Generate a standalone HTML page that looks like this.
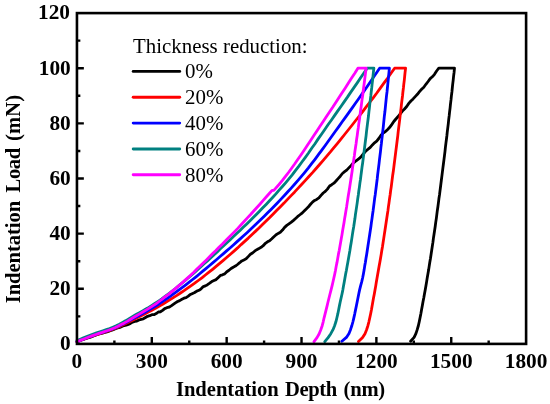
<!DOCTYPE html>
<html lang="en"><head><meta charset="utf-8"><title>Indentation Load vs Depth</title>
<style>html,body{margin:0;padding:0;background:#fff}body{width:550px;height:404px;overflow:hidden}svg{display:block}</style>
</head><body>
<svg width="550" height="404" viewBox="0 0 550 404">
<rect width="550" height="404" fill="#fff"/>
<g fill="none" stroke-width="2.8" stroke-linejoin="round" stroke-linecap="round">
<path d="M77.0 341.7 L79.1 340.9 L81.2 340.2 L83.4 339.4 L85.5 338.7 L87.7 337.9 L89.8 337.3 L91.9 336.6 L94.1 335.8 L96.2 334.9 L98.4 334.1 L100.5 333.7 L102.6 333.1 L104.8 332.5 L106.9 331.9 L109.1 331.2 L111.2 330.3 L113.3 329.6 L115.5 328.8 L117.6 328.0 L119.8 327.4 L121.9 326.4 L124.1 325.5 L126.2 325.1 L128.3 324.4 L130.5 323.4 L132.6 322.1 L134.8 321.4 L136.9 321.1 L139.0 320.0 L141.2 319.3 L143.3 318.8 L145.5 317.5 L147.6 316.3 L149.7 315.7 L151.9 314.7 L154.0 314.7 L156.2 313.6 L158.3 312.0 L160.4 311.8 L162.6 310.4 L164.7 308.6 L166.9 307.7 L169.0 307.2 L171.2 305.9 L173.3 304.4 L175.4 302.9 L177.6 301.5 L179.7 300.6 L181.9 299.3 L184.0 298.2 L186.1 297.6 L188.3 296.1 L190.4 294.4 L192.6 293.4 L194.7 292.5 L196.8 291.1 L199.0 290.3 L201.1 288.8 L203.3 286.6 L205.4 285.9 L207.5 284.7 L209.7 283.2 L211.8 281.6 L214.0 280.5 L216.1 279.6 L218.3 277.4 L220.4 275.4 L222.5 274.8 L224.7 273.9 L226.8 271.7 L229.0 270.3 L231.1 268.5 L233.2 267.2 L235.4 266.1 L237.5 264.5 L239.7 262.7 L241.8 260.9 L243.9 259.9 L246.1 258.8 L248.2 256.6 L250.4 254.3 L252.5 253.0 L254.6 251.2 L256.8 249.7 L258.9 248.6 L261.1 247.3 L263.2 245.7 L265.4 243.3 L267.5 241.8 L269.6 240.7 L271.8 238.7 L273.9 236.7 L276.1 234.7 L278.2 233.4 L280.3 232.3 L282.5 230.1 L284.6 227.4 L286.8 225.4 L288.9 223.9 L291.0 222.4 L293.2 220.6 L295.3 218.7 L297.5 216.7 L299.6 215.0 L301.7 213.4 L303.9 211.3 L306.0 209.2 L308.2 207.1 L310.3 204.5 L312.5 202.1 L314.6 200.4 L316.7 199.4 L318.9 197.9 L321.0 195.4 L323.2 193.0 L325.3 191.4 L327.4 189.1 L329.6 186.0 L331.7 184.7 L333.9 183.2 L336.0 181.0 L338.1 178.6 L340.3 176.2 L342.4 173.5 L344.6 171.7 L346.7 170.1 L348.8 167.9 L351.0 165.6 L353.1 163.3 L355.3 161.4 L357.4 159.8 L359.6 158.2 L361.7 156.0 L363.8 153.4 L366.0 150.8 L368.1 149.2 L370.3 147.4 L372.4 144.9 L374.5 142.8 L376.7 141.1 L378.8 138.5 L381.0 135.2 L383.1 133.1 L385.2 131.8 L387.4 129.7 L389.5 127.6 L391.7 124.6 L393.8 121.5 L395.9 119.0 L398.1 116.5 L400.2 113.8 L402.4 111.1 L404.5 109.0 L406.7 106.5 L408.8 103.4 L410.9 101.0 L413.1 98.9 L415.2 96.6 L417.4 94.3 L419.5 91.6 L421.6 89.3 L423.8 87.2 L425.9 84.3 L428.1 81.5 L430.2 78.6 L432.3 76.8 L434.5 74.3 L436.6 71.0 L438.8 68.2 L454.5 68.2 L454.5 68.2 L454.1 72.2 L453.6 76.1 L453.2 80.1 L452.7 84.1 L452.3 88.0 L451.9 92.0 L451.4 95.9 L451.0 99.9 L450.5 103.9 L450.1 107.8 L449.6 111.8 L449.2 115.7 L448.7 119.7 L448.3 123.6 L447.8 127.6 L447.3 131.6 L446.9 135.5 L446.4 139.5 L445.9 143.4 L445.4 147.4 L445.0 151.3 L444.5 155.3 L444.0 159.3 L443.5 163.2 L443.0 167.2 L442.5 171.1 L442.0 175.1 L441.5 179.0 L441.0 183.0 L440.5 187.0 L440.0 190.9 L439.5 194.9 L438.9 198.8 L438.4 202.8 L437.9 206.7 L437.3 210.7 L436.8 214.7 L436.3 218.6 L435.7 222.6 L435.2 226.5 L434.6 230.5 L434.0 234.5 L433.4 238.4 L432.9 242.4 L432.3 246.3 L431.7 250.3 L431.1 254.2 L430.5 258.2 L429.8 262.2 L429.2 266.1 L428.6 270.1 L427.9 274.0 L427.2 278.0 L426.6 281.9 L425.9 285.9 L425.2 289.9 L424.5 293.8 L423.8 297.8 L423.0 301.7 L422.3 305.7 L421.6 309.6 L420.9 313.6 L420.1 317.6 L419.3 321.5 L418.4 325.5 L417.3 329.4 L416.0 333.4 L414.1 337.4 L410.6 341.3" stroke="#000000"/>
<path d="M77.0 341.7 L80.5 340.3 L84.1 339.0 L87.7 337.7 L91.2 336.4 L94.8 335.2 L98.4 334.1 L101.9 333.0 L105.5 331.8 L109.1 330.7 L112.6 329.4 L116.2 328.0 L119.8 326.4 L123.3 324.8 L126.9 323.0 L130.5 321.2 L134.1 319.4 L137.6 317.6 L141.2 315.8 L144.8 314.0 L148.3 312.1 L151.9 310.2 L155.5 308.3 L159.0 306.2 L162.6 304.2 L166.2 302.0 L169.7 299.9 L173.3 297.6 L176.9 295.4 L180.5 293.0 L184.0 290.7 L187.6 288.2 L191.2 285.7 L194.7 283.2 L198.3 280.5 L201.9 277.8 L205.4 275.0 L209.0 272.2 L212.6 269.3 L216.1 266.4 L219.7 263.4 L223.3 260.4 L226.9 257.3 L230.4 254.2 L234.0 251.1 L237.6 247.9 L241.1 244.6 L244.7 241.4 L248.3 238.1 L251.8 234.7 L255.4 231.4 L259.0 228.0 L262.5 224.5 L266.1 221.0 L269.7 217.5 L273.2 213.9 L276.8 210.3 L280.4 206.7 L284.0 203.1 L287.5 199.4 L291.1 195.6 L294.7 191.9 L298.2 188.1 L301.8 184.3 L305.4 180.4 L308.9 176.5 L312.5 172.6 L316.1 168.5 L319.6 164.5 L323.2 160.3 L326.8 156.1 L330.4 151.9 L333.9 147.6 L337.5 143.3 L341.1 138.9 L344.6 134.5 L348.2 130.0 L351.8 125.5 L355.3 121.0 L358.9 116.5 L362.5 111.9 L366.0 107.2 L369.6 102.5 L373.2 97.8 L376.8 93.0 L380.3 88.1 L383.9 83.2 L387.5 78.3 L391.0 73.3 L394.6 68.2 L405.6 68.2 L405.6 68.2 L405.1 72.2 L404.7 76.2 L404.3 80.1 L403.8 84.1 L403.4 88.0 L402.9 92.0 L402.5 96.0 L402.0 99.9 L401.5 103.9 L401.1 107.8 L400.6 111.8 L400.1 115.8 L399.7 119.7 L399.2 123.7 L398.7 127.7 L398.2 131.6 L397.8 135.6 L397.3 139.5 L396.8 143.5 L396.3 147.5 L395.8 151.4 L395.3 155.4 L394.8 159.4 L394.3 163.3 L393.8 167.3 L393.3 171.2 L392.7 175.2 L392.2 179.2 L391.7 183.1 L391.2 187.1 L390.6 191.0 L390.1 195.0 L389.5 199.0 L389.0 202.9 L388.4 206.9 L387.9 210.9 L387.3 214.8 L386.7 218.8 L386.1 222.7 L385.5 226.7 L384.9 230.7 L384.3 234.6 L383.7 238.6 L383.1 242.5 L382.5 246.5 L381.8 250.5 L381.2 254.4 L380.5 258.4 L379.8 262.4 L379.1 266.3 L378.4 270.3 L377.7 274.2 L377.0 278.2 L376.3 282.2 L375.7 286.1 L375.0 290.1 L374.3 294.0 L373.5 298.0 L372.8 302.0 L372.1 305.9 L371.4 309.9 L370.6 313.9 L369.8 317.8 L368.9 321.8 L367.9 325.7 L366.6 329.7 L365.0 333.7 L362.6 337.6 L358.5 341.6" stroke="#ff0000"/>
<path d="M77.0 341.7 L80.4 340.3 L83.8 339.0 L87.2 337.7 L90.6 336.4 L94.0 335.2 L97.4 334.0 L100.8 332.9 L104.2 331.9 L107.6 330.7 L111.0 329.5 L114.4 328.2 L117.8 326.7 L121.2 325.1 L124.6 323.3 L128.0 321.5 L131.4 319.6 L134.8 317.7 L138.2 315.9 L141.6 314.1 L145.0 312.2 L148.4 310.3 L151.8 308.4 L155.2 306.3 L158.6 304.2 L162.0 301.9 L165.4 299.6 L168.8 297.3 L172.2 294.9 L175.6 292.4 L179.0 289.9 L182.4 287.4 L185.8 284.8 L189.2 282.2 L192.6 279.5 L196.0 276.8 L199.4 274.0 L202.8 271.2 L206.2 268.4 L209.6 265.5 L213.0 262.7 L216.4 259.8 L219.8 256.8 L223.2 253.9 L226.6 250.9 L230.0 248.0 L233.4 245.0 L236.8 241.9 L240.2 238.9 L243.6 235.8 L247.0 232.7 L250.4 229.5 L253.8 226.3 L257.2 223.1 L260.6 219.8 L264.0 216.5 L267.4 213.1 L270.8 209.7 L274.2 206.2 L277.6 202.7 L281.0 199.1 L284.4 195.5 L287.8 191.8 L291.2 188.1 L294.6 184.3 L298.0 180.4 L301.4 176.4 L304.8 172.3 L308.2 168.1 L311.6 163.7 L315.0 159.3 L318.4 154.7 L321.8 150.1 L325.2 145.5 L328.6 140.8 L332.0 136.0 L335.4 131.3 L338.8 126.6 L342.2 121.8 L345.6 117.1 L349.0 112.4 L352.4 107.6 L355.8 102.8 L359.2 98.0 L362.6 93.1 L366.0 88.2 L369.4 83.2 L372.8 78.3 L376.2 73.3 L379.6 68.2 L389.4 68.2 L389.4 68.2 L389.0 72.2 L388.6 76.1 L388.2 80.1 L387.8 84.1 L387.4 88.0 L387.0 92.0 L386.5 95.9 L386.1 99.9 L385.7 103.9 L385.3 107.8 L384.9 111.8 L384.4 115.7 L384.0 119.7 L383.6 123.6 L383.2 127.6 L382.7 131.6 L382.3 135.5 L381.8 139.5 L381.4 143.4 L380.9 147.4 L380.5 151.3 L380.0 155.3 L379.5 159.3 L379.1 163.2 L378.6 167.2 L378.1 171.1 L377.6 175.1 L377.2 179.0 L376.7 183.0 L376.2 187.0 L375.7 190.9 L375.2 194.9 L374.6 198.8 L374.1 202.8 L373.6 206.7 L373.1 210.7 L372.5 214.7 L372.0 218.6 L371.4 222.6 L370.9 226.5 L370.3 230.5 L369.7 234.5 L369.1 238.4 L368.5 242.4 L367.9 246.3 L367.3 250.3 L366.7 254.2 L366.0 258.2 L365.4 262.2 L364.7 266.1 L364.1 270.1 L363.4 274.0 L362.6 278.0 L361.7 281.9 L360.6 285.9 L359.6 289.9 L358.8 293.8 L358.0 297.8 L357.2 301.7 L356.4 305.7 L355.6 309.6 L354.8 313.6 L353.9 317.6 L353.0 321.5 L351.9 325.5 L350.6 329.4 L349.0 333.4 L346.4 337.4 L341.9 341.3" stroke="#0000ff"/>
<path d="M77.0 340.6 L80.2 339.2 L83.5 337.9 L86.7 336.6 L90.0 335.3 L93.3 334.0 L96.5 332.9 L99.8 331.8 L103.0 330.7 L106.3 329.6 L109.6 328.5 L112.8 327.2 L116.1 325.8 L119.3 324.2 L122.6 322.4 L125.9 320.6 L129.1 318.7 L132.4 316.7 L135.6 314.8 L138.9 313.0 L142.2 311.1 L145.4 309.3 L148.7 307.4 L151.9 305.4 L155.2 303.3 L158.5 301.1 L161.7 298.9 L165.0 296.5 L168.2 294.1 L171.5 291.6 L174.8 289.0 L178.0 286.4 L181.3 283.7 L184.6 281.0 L187.8 278.2 L191.1 275.4 L194.3 272.6 L197.6 269.7 L200.9 266.8 L204.1 263.8 L207.4 260.9 L210.6 257.9 L213.9 254.9 L217.2 251.9 L220.4 248.8 L223.7 245.8 L226.9 242.8 L230.2 239.7 L233.5 236.6 L236.7 233.6 L240.0 230.5 L243.2 227.3 L246.5 224.2 L249.8 221.0 L253.0 217.8 L256.3 214.5 L259.5 211.2 L262.8 207.8 L266.1 204.4 L269.3 201.0 L272.6 197.5 L275.9 193.9 L279.1 190.2 L282.4 186.5 L285.6 182.8 L288.9 178.9 L292.2 174.9 L295.4 170.7 L298.7 166.4 L301.9 162.0 L305.2 157.6 L308.5 153.0 L311.7 148.3 L315.0 143.7 L318.2 138.9 L321.5 134.2 L324.8 129.5 L328.0 124.8 L331.3 120.2 L334.5 115.6 L337.8 110.9 L341.1 106.2 L344.3 101.6 L347.6 96.9 L350.8 92.1 L354.1 87.4 L357.4 82.6 L360.6 77.8 L363.9 73.0 L367.2 68.2 L373.9 68.2 L373.9 68.2 L373.4 72.2 L373.0 76.2 L372.6 80.1 L372.1 84.1 L371.7 88.0 L371.2 92.0 L370.8 96.0 L370.3 99.9 L369.8 103.9 L369.4 107.8 L368.9 111.8 L368.5 115.8 L368.0 119.7 L367.5 123.7 L367.0 127.7 L366.5 131.6 L366.1 135.6 L365.6 139.5 L365.1 143.5 L364.6 147.5 L364.1 151.4 L363.6 155.4 L363.1 159.4 L362.6 163.3 L362.0 167.3 L361.5 171.2 L361.0 175.2 L360.5 179.2 L359.9 183.1 L359.4 187.1 L358.8 191.0 L358.3 195.0 L357.7 199.0 L357.2 202.9 L356.6 206.9 L356.0 210.9 L355.4 214.8 L354.9 218.8 L354.3 222.7 L353.7 226.7 L353.0 230.7 L352.4 234.6 L351.8 238.6 L351.2 242.5 L350.5 246.5 L349.9 250.5 L349.2 254.4 L348.5 258.4 L347.8 262.4 L347.1 266.3 L346.4 270.3 L345.6 274.2 L344.9 278.2 L344.2 282.2 L343.5 286.1 L342.8 290.1 L342.0 294.0 L341.1 298.0 L340.2 302.0 L339.4 305.9 L338.6 309.9 L337.8 313.9 L336.9 317.8 L335.9 321.8 L334.6 325.7 L333.0 329.7 L330.8 333.7 L328.1 337.6 L324.8 341.6" stroke="#008080"/>
<path d="M77.0 341.7 L80.1 340.4 L83.3 339.2 L86.4 338.0 L89.6 336.8 L92.7 335.6 L95.9 334.5 L99.0 333.4 L102.2 332.4 L105.4 331.3 L108.5 330.2 L111.7 329.0 L114.8 327.7 L118.0 326.2 L121.1 324.6 L124.3 322.9 L127.5 321.1 L130.6 319.2 L133.8 317.3 L136.9 315.5 L140.1 313.6 L143.2 311.8 L146.4 309.9 L149.6 307.9 L152.7 305.9 L155.9 303.8 L159.0 301.5 L162.2 299.2 L165.3 296.7 L168.5 294.3 L171.7 291.7 L174.8 289.1 L178.0 286.4 L181.1 283.7 L184.3 280.9 L187.4 278.1 L190.6 275.2 L193.8 272.2 L196.9 269.1 L200.1 266.1 L203.2 263.0 L206.4 259.9 L209.5 256.8 L212.7 253.6 L215.9 250.5 L219.0 247.3 L222.2 244.2 L225.3 241.0 L228.5 237.8 L231.6 234.6 L234.8 231.4 L238.0 228.1 L241.1 224.7 L244.3 221.3 L247.4 217.9 L250.6 214.5 L253.7 211.0 L256.9 207.5 L260.1 204.0 L263.2 200.4 L266.4 196.8 L269.5 193.3 L272.1 190.4 L273.8 190.4 L275.8 188.1 L279.0 184.5 L282.2 180.7 L285.3 176.7 L288.5 172.5 L291.6 168.2 L294.8 163.8 L297.9 159.3 L301.1 154.7 L304.3 150.0 L307.4 145.3 L310.6 140.5 L313.7 135.8 L316.9 131.0 L320.0 126.2 L323.2 121.5 L326.3 116.8 L329.5 112.0 L332.7 107.3 L335.8 102.5 L339.0 97.6 L342.1 92.8 L345.3 87.9 L348.4 83.0 L351.6 78.1 L354.8 73.2 L357.9 68.2 L366.2 68.2 L366.2 68.2 L365.6 72.2 L365.1 76.2 L364.6 80.1 L364.1 84.1 L363.6 88.0 L363.1 92.0 L362.6 96.0 L362.0 99.9 L361.5 103.9 L361.0 107.8 L360.4 111.8 L359.9 115.8 L359.4 119.7 L358.8 123.7 L358.3 127.7 L357.7 131.6 L357.2 135.6 L356.6 139.5 L356.1 143.5 L355.5 147.5 L354.9 151.4 L354.4 155.4 L353.8 159.4 L353.2 163.3 L352.6 167.3 L352.1 171.2 L351.5 175.2 L350.9 179.2 L350.3 183.1 L349.7 187.1 L349.1 191.0 L348.4 195.0 L347.8 199.0 L347.2 202.9 L346.6 206.9 L345.9 210.9 L345.3 214.8 L344.6 218.8 L344.0 222.7 L343.3 226.7 L342.6 230.7 L342.0 234.6 L341.3 238.6 L340.6 242.5 L339.9 246.5 L339.2 250.5 L338.4 254.4 L337.7 258.4 L337.0 262.4 L336.2 266.3 L335.5 270.3 L334.7 274.2 L333.8 278.2 L332.9 282.2 L332.0 286.1 L331.0 290.1 L330.0 294.0 L329.0 298.0 L328.0 302.0 L327.1 305.9 L326.1 309.9 L325.1 313.9 L324.1 317.8 L323.2 321.8 L322.2 325.7 L320.8 329.7 L319.2 333.7 L317.0 337.6 L314.0 341.6" stroke="#ff00ff"/>
</g>
<rect x="76.95" y="13.10" width="449.15" height="330.80" fill="none" stroke="#000" stroke-width="2.6"/>
<path d="M114.38 343.90 v-3.40 M151.81 343.90 v-6.90 M189.24 343.90 v-3.40 M226.67 343.90 v-6.90 M264.10 343.90 v-3.40 M301.53 343.90 v-6.90 M338.95 343.90 v-3.40 M376.38 343.90 v-6.90 M413.81 343.90 v-3.40 M451.24 343.90 v-6.90 M488.67 343.90 v-3.40 M76.95 316.33 h3.40 M76.95 288.77 h6.90 M76.95 261.20 h3.40 M76.95 233.63 h6.90 M76.95 206.07 h3.40 M76.95 178.50 h6.90 M76.95 150.93 h3.40 M76.95 123.37 h6.90 M76.95 95.80 h3.40 M76.95 68.23 h6.90 M76.95 40.67 h3.40" stroke="#000" stroke-width="2.4" fill="none"/>
<g font-family="'Liberation Serif', 'Times New Roman', serif" font-weight="bold" font-size="21.3px" fill="#000">
<text x="76.95" y="367.9" text-anchor="middle">0</text>
<text x="151.81" y="367.9" text-anchor="middle">300</text>
<text x="226.67" y="367.9" text-anchor="middle">600</text>
<text x="301.53" y="367.9" text-anchor="middle">900</text>
<text x="376.38" y="367.9" text-anchor="middle">1200</text>
<text x="451.24" y="367.9" text-anchor="middle">1500</text>
<text x="526.10" y="367.9" text-anchor="middle">1800</text>
<text x="70.7" y="350.30" text-anchor="end">0</text>
<text x="70.7" y="295.17" text-anchor="end">20</text>
<text x="70.7" y="240.03" text-anchor="end">40</text>
<text x="70.7" y="184.90" text-anchor="end">60</text>
<text x="70.7" y="129.77" text-anchor="end">80</text>
<text x="70.7" y="74.63" text-anchor="end">100</text>
<text x="70.0" y="19.00" text-anchor="end">120</text>
<text y="395.6" font-size="20.6px"><tspan x="175.9" textLength="102.8">Indentation</tspan> <tspan x="285.1" textLength="52">Depth</tspan> <tspan x="343.6" textLength="41.6">(nm)</tspan></text>
<text transform="translate(20.3 0) rotate(-90)" font-size="20.6px"><tspan x="-303.3" textLength="102.4">Indentation</tspan> <tspan x="-192.4" textLength="44.6">Load</tspan> <tspan x="-140.9" textLength="45.9">(mN)</tspan></text>
</g>
<g font-family="'Liberation Serif', 'Times New Roman', serif" font-size="20.9px" fill="#000">
<text x="133" y="52.9">Thickness reduction:</text>
<line x1="133.2" y1="71.40" x2="179.7" y2="71.40" stroke="#000000" stroke-width="2.9" stroke-linecap="round"/>
<text x="185" y="78.30">0%</text>
<line x1="133.2" y1="97.25" x2="179.7" y2="97.25" stroke="#ff0000" stroke-width="2.9" stroke-linecap="round"/>
<text x="185" y="104.15">20%</text>
<line x1="133.2" y1="123.10" x2="179.7" y2="123.10" stroke="#0000ff" stroke-width="2.9" stroke-linecap="round"/>
<text x="185" y="130.00">40%</text>
<line x1="133.2" y1="148.95" x2="179.7" y2="148.95" stroke="#008080" stroke-width="2.9" stroke-linecap="round"/>
<text x="185" y="155.85">60%</text>
<line x1="133.2" y1="174.80" x2="179.7" y2="174.80" stroke="#ff00ff" stroke-width="2.9" stroke-linecap="round"/>
<text x="185" y="181.70">80%</text>
</g>
</svg>
</body></html>
